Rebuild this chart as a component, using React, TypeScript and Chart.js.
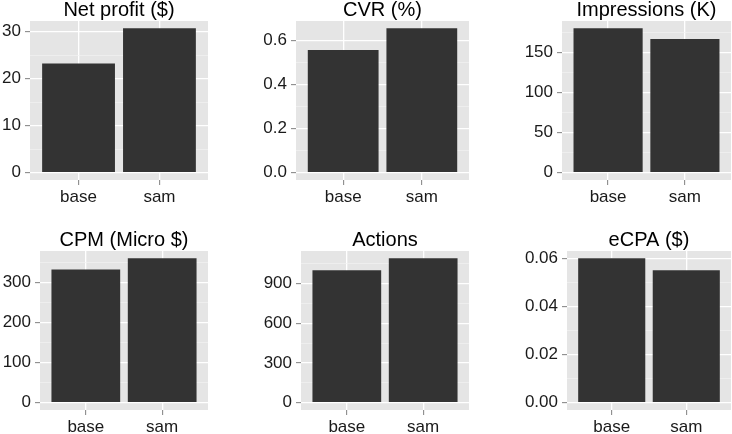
import React, { useEffect, useRef } from "react";
import { Chart, registerables } from "chart.js";

Chart.register(...registerables);

// ---- data ----
const categories = ["base", "sam"];

const netProfitValues = [23.2, 30.7];
const cvrValues = [0.558, 0.657];
const impressionsValues = [180, 166.6];
const cpmValues = [332, 360];
const actionsValues = [1000, 1091];
const ecpaValues = [0.06, 0.055];

const netProfitTicks = [0, 10, 20, 30];
const cvrTicks = [0, 0.2, 0.4, 0.6];
const impressionsTicks = [0, 50, 100, 150];
const cpmTicks = [0, 100, 200, 300];
const actionsTicks = [0, 300, 600, 900];
const ecpaTicks = [0, 0.02, 0.04, 0.06];

const FONT = "'Liberation Sans', Arial, Helvetica, sans-serif";

type Box = { L: number; R: number; T: number; B: number };

const panels: {
  title: string;
  values: number[];
  ticks: number[];
  decimals: number;
  box: Box;
}[] = [
  { title: "Net profit ($)", values: netProfitValues, ticks: netProfitTicks, decimals: 0, box: { L: 30, R: 208, T: 21, B: 180 } },
  { title: "CVR (%)", values: cvrValues, ticks: cvrTicks, decimals: 1, box: { L: 296, R: 469, T: 21, B: 180 } },
  { title: "Impressions (K)", values: impressionsValues, ticks: impressionsTicks, decimals: 0, box: { L: 562, R: 731, T: 21, B: 180 } },
  { title: "CPM (Micro $)", values: cpmValues, ticks: cpmTicks, decimals: 0, box: { L: 40, R: 208, T: 251, B: 410 } },
  { title: "Actions", values: actionsValues, ticks: actionsTicks, decimals: 0, box: { L: 301, R: 469, T: 251, B: 410 } },
  { title: "eCPA ($)", values: ecpaValues, ticks: ecpaTicks, decimals: 2, box: { L: 567, R: 731, T: 251, B: 410 } },
];

const Y_AXIS_W = 42;
const TITLE_H = 21;
const X_AXIS_H = 30;
const RIGHT_PAD = 1;

const bgPlugin = {
  id: "panelBg",
  beforeDraw(chart: any) {
    const { ctx, chartArea: a } = chart;
    ctx.save();
    ctx.fillStyle = "#e5e5e5";
    ctx.fillRect(a.left, a.top, a.right - a.left, a.bottom - a.top);
    ctx.restore();
  },
};

function Panel({ title, values, ticks, decimals, box }: (typeof panels)[number]) {
  const ref = useRef<HTMLCanvasElement>(null);
  const w = box.R - box.L + Y_AXIS_W + RIGHT_PAD;
  const h = box.B - box.T + TITLE_H + X_AXIS_H;

  useEffect(() => {
    if (!ref.current) return;
    const maxV = Math.max(...values);
    const yMin = -0.05 * maxV;
    const yMax = 1.05 * maxV;
    const step = ticks[1] - ticks[0];
    const isMajor = (v: number) => ticks.some((t) => Math.abs(t - v) < step * 1e-6);
    const allTicks: number[] = [];
    ticks.forEach((t) => {
      allTicks.push(t);
      if (t + step / 2 <= yMax) allTicks.push(t + step / 2);
    });
    allTicks.sort((a, b) => a - b);

    const chart = new Chart(ref.current, {
      type: "bar",
      data: {
        datasets: [
          {
            data: values.map((v, i) => ({ x: i + 1, y: v })),
            backgroundColor: "#333333",
            borderWidth: 0,
            barPercentage: 0.9,
            categoryPercentage: 1,
          },
        ],
      },
      options: {
        animation: false,
        responsive: false,
        maintainAspectRatio: false,
        events: [],
        layout: { padding: { left: 0, right: RIGHT_PAD, top: 0, bottom: 0 } },
        plugins: {
          legend: { display: false },
          tooltip: { enabled: false },
          title: {
            display: true,
            text: title,
            fullSize: false,
            color: "#000000",
            font: { family: FONT, size: 20, weight: "normal", lineHeight: 1 },
            padding: { top: 0, bottom: 1 },
          },
        },
        scales: {
          x: {
            type: "linear",
            min: 0.4,
            max: 2.6,
            offset: false,
            afterBuildTicks: (s: any) => {
              s.ticks = categories.map((_, i) => ({ value: i + 1 }));
            },
            afterFit: (s: any) => {
              s.height = X_AXIS_H;
            },
            border: { display: false },
            grid: {
              offset: false,
              color: "#ffffff",
              lineWidth: 1.3,
              drawTicks: true,
              tickLength: 5,
              tickColor: "#7f7f7f",
              tickWidth: 1,
            },
            ticks: {
              autoSkip: false,
              maxRotation: 0,
              padding: 2,
              color: "#1a1a1a",
              font: { family: FONT, size: 17 },
              callback: (v: any) => categories[Math.round(Number(v)) - 1] ?? "",
            },
          },
          y: {
            type: "linear",
            min: yMin,
            max: yMax,
            afterBuildTicks: (s: any) => {
              s.ticks = allTicks.map((v) => ({ value: v }));
            },
            afterFit: (s: any) => {
              s.width = Y_AXIS_W;
            },
            border: { display: false },
            grid: {
              color: (ctx: any) => (isMajor(ctx.tick.value) ? "#ffffff" : "#f2f2f2"),
              lineWidth: (ctx: any) => (isMajor(ctx.tick.value) ? 1.3 : 0.7),
              drawTicks: true,
              tickLength: 5,
              tickColor: (ctx: any) => (isMajor(ctx.tick.value) ? "#7f7f7f" : "rgba(0,0,0,0)"),
              tickWidth: 1,
            },
            ticks: {
              autoSkip: false,
              padding: 4,
              color: "#1a1a1a",
              font: { family: FONT, size: 17 },
              callback: (v: any) => (isMajor(Number(v)) ? Number(v).toFixed(decimals) : ""),
            },
          },
        },
      },
      plugins: [bgPlugin],
    } as any);
    return () => chart.destroy();
  }, [title, values, ticks, decimals]);

  return (
    <div
      style={{
        position: "absolute",
        left: box.L - Y_AXIS_W,
        top: box.T - TITLE_H,
        width: w,
        height: h,
      }}
    >
      <canvas ref={ref} width={w} height={h} style={{ width: w, height: h, display: "block" }} />
    </div>
  );
}

export default function App() {
  return (
    <div
      style={{
        position: "absolute",
        left: 0,
        top: 0,
        width: 732,
        height: 434,
        background: "#ffffff",
        overflow: "hidden",
      }}
    >
      {panels.map((p) => (
        <Panel key={p.title} {...p} />
      ))}
    </div>
  );
}
